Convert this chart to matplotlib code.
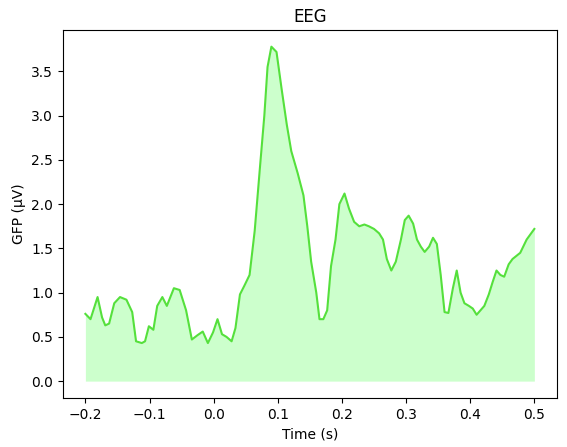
import matplotlib
matplotlib.use("Agg")
import matplotlib.pyplot as plt

times = [-0.200, -0.192, -0.181, -0.174, -0.169, -0.163, -0.155, -0.146, -0.136, -0.127,
         -0.121, -0.112, -0.107, -0.101, -0.094, -0.088, -0.080, -0.073, -0.062, -0.053,
         -0.043, -0.034, -0.025, -0.017, -0.009, -0.001, 0.006, 0.013, 0.020, 0.028,
         0.034, 0.041, 0.048, 0.056, 0.064, 0.072, 0.079, 0.084, 0.090, 0.098,
         0.106, 0.114, 0.121, 0.131, 0.140, 0.146, 0.152, 0.160, 0.165, 0.171,
         0.177, 0.183, 0.190, 0.196, 0.204, 0.211, 0.219, 0.227, 0.235, 0.242,
         0.250, 0.258, 0.264, 0.270, 0.277, 0.284, 0.292, 0.298, 0.304, 0.311,
         0.317, 0.323, 0.329, 0.336, 0.342, 0.348, 0.354, 0.360, 0.366, 0.373,
         0.379, 0.385, 0.391, 0.398, 0.404, 0.410, 0.416, 0.422, 0.429, 0.435,
         0.441, 0.447, 0.453, 0.460, 0.466, 0.478, 0.488, 0.500]
gfp = [0.76, 0.70, 0.95, 0.72, 0.63, 0.65, 0.88, 0.95, 0.92, 0.78,
       0.45, 0.43, 0.45, 0.62, 0.58, 0.85, 0.95, 0.85, 1.05, 1.03,
       0.80, 0.47, 0.52, 0.56, 0.43, 0.55, 0.70, 0.53, 0.50, 0.45,
       0.60, 0.98, 1.08, 1.20, 1.70, 2.40, 3.00, 3.55, 3.78, 3.72,
       3.30, 2.90, 2.60, 2.35, 2.10, 1.75, 1.35, 1.00, 0.70, 0.70,
       0.80, 1.30, 1.60, 2.00, 2.12, 1.95, 1.80, 1.75, 1.77, 1.75,
       1.72, 1.67, 1.60, 1.38, 1.25, 1.35, 1.60, 1.82, 1.87, 1.78,
       1.60, 1.52, 1.46, 1.52, 1.62, 1.55, 1.20, 0.78, 0.77, 1.05,
       1.25, 1.00, 0.88, 0.85, 0.82, 0.75, 0.80, 0.85, 0.98, 1.12,
       1.25, 1.20, 1.18, 1.32, 1.38, 1.45, 1.60, 1.72]

fig, ax = plt.subplots(figsize=(5.67, 4.47), dpi=100)
fig.subplots_adjust(left=0.111, right=0.982, top=0.933, bottom=0.11)
ax.fill_between(times, 0, gfp, color="#ccffcc", linewidth=0)
ax.plot(times, gfp, color="#55e03c", linewidth=1.5)
ax.set_xlabel("Time (s)")
ax.set_ylabel("GFP (µV)")
ax.set_title("EEG")
ax.set_xticks([-0.2, -0.1, 0.0, 0.1, 0.2, 0.3, 0.4, 0.5])
plt.savefig("out.png", dpi=100)
